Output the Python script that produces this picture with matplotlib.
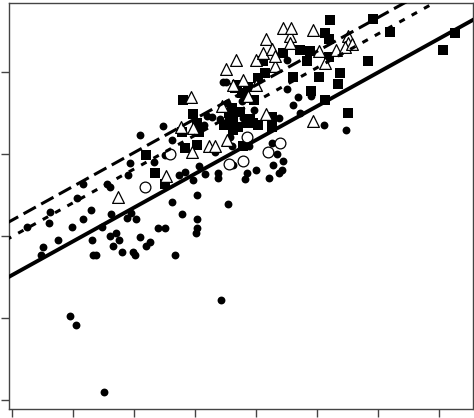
import matplotlib
matplotlib.use("Agg")
import matplotlib.pyplot as plt
import numpy as np

# filled circles
circ_x = [0.24, 0.51, 0.47, 0.62, 0.60, 0.76, 0.99, 1.07, 1.16, 1.17, 1.29, 1.31, 1.33, 1.38,
          1.47, 1.55, 1.61, 1.62, 1.60, 1.65, 1.70, 1.75, 1.81, 1.88, 1.90, 1.93, 1.95, 1.99,
          2.01, 2.03, 2.10, 2.10, 2.19, 2.26, 2.33, 2.40, 2.48, 2.51, 2.50, 2.62, 2.63, 2.68,
          2.74, 2.78, 2.84, 2.96, 3.03, 3.03, 3.03, 3.01, 3.07, 3.16, 3.28, 3.33, 3.37, 3.38,
          3.54, 3.50, 3.60, 3.63, 3.82, 3.85, 3.89, 4.00, 4.22, 4.27, 4.26, 4.34, 4.38, 4.42,
          4.45, 4.37, 4.50, 4.51, 4.61, 4.69, 4.72, 4.90, 5.11, 5.48, 0.95, 1.05, 1.51, 3.42,
          3.66, 3.77, 3.96, 3.57, 3.41, 3.19, 3.15, 3.46, 3.52, 3.62, 3.79, 3.49, 3.66]
circ_y = [2.11, 1.86, 1.76, 2.29, 2.16, 1.95, 2.11, 2.46, 2.20, 2.63, 2.32, 1.95, 1.76, 1.76,
          2.11, 2.63, 2.60, 2.27, 2.00, 1.87, 2.04, 1.95, 1.80, 2.22, 2.74, 2.89, 2.28, 1.80,
          1.76, 2.21, 1.98, 3.23, 1.87, 1.92, 2.90, 2.09, 3.34, 2.09, 2.98, 3.17, 2.41, 1.76,
          2.74, 2.27, 2.78, 2.68, 2.50, 2.20, 2.09, 2.04, 2.85, 2.75, 3.45, 3.02, 2.76, 2.71,
          2.39, 3.87, 3.09, 2.86, 2.69, 2.76, 3.09, 2.80, 2.70, 2.86, 3.13, 3.00, 2.76, 2.80,
          2.91, 3.44, 4.14, 3.79, 3.59, 3.69, 3.50, 3.71, 3.35, 3.29, 1.02, 0.91, 0.09, 1.22,
          3.54, 3.64, 3.54, 3.21, 3.43, 3.46, 3.35, 3.87, 3.62, 3.50, 3.44, 3.38, 3.32]

# filled squares
sq_x = [2.80, 2.96, 3.03, 3.07, 2.78, 3.03, 2.19, 2.35, 2.50, 2.83, 3.48, 3.56, 3.63, 3.71,
        3.68, 3.87, 3.96, 4.04, 4.12, 4.15, 3.90, 4.04, 4.26, 4.26, 4.45, 4.61, 4.72, 4.89,
        4.83, 4.90, 5.04, 5.13, 5.13, 5.22, 5.20, 5.20, 5.37, 5.35, 5.51, 5.83, 5.92, 6.20,
        7.07, 7.26, 3.79, 3.63, 3.57, 3.66, 3.77, 3.61, 3.74, 3.57, 3.85, 3.95]
sq_y = [3.66, 3.49, 3.37, 3.27, 3.27, 3.11, 2.99, 2.76, 2.63, 3.07, 3.35, 3.50, 3.41, 3.33,
        3.84, 3.82, 3.66, 3.92, 4.13, 3.98, 3.43, 3.35, 3.45, 3.33, 4.23, 3.94, 4.27, 4.25,
        4.13, 3.76, 3.94, 3.66, 4.47, 4.63, 4.40, 4.18, 3.99, 3.85, 3.50, 4.13, 4.65, 4.48,
        4.27, 4.47, 3.09, 3.29, 3.39, 3.80, 3.74, 3.56, 3.51, 3.41, 3.38, 3.38]

# open triangles
tri_x = [1.74, 2.52, 2.77, 2.93, 2.95, 2.96, 3.23, 3.33, 3.45, 3.52, 3.51, 3.67, 3.63, 3.79,
         3.87, 4.00, 4.00, 4.12, 4.16, 4.17, 4.26, 4.31, 4.31, 4.44, 4.55, 4.58, 4.56, 4.93,
         4.94, 5.04, 5.13, 5.31, 5.51, 5.50, 5.46, 5.57]
tri_y = [2.47, 2.73, 3.33, 3.69, 3.02, 3.31, 3.10, 3.10, 3.58, 3.17, 4.04, 4.14, 3.84, 3.90,
         3.70, 4.15, 3.84, 4.23, 4.40, 3.48, 4.28, 4.07, 4.19, 4.54, 4.44, 4.53, 4.35, 4.51,
         3.40, 4.25, 4.11, 4.27, 4.44, 4.35, 4.30, 4.34]

# open circles
oc_x = [2.18, 2.59, 3.55, 3.79, 3.85, 4.20, 4.40]
oc_y = [2.59, 3.00, 2.87, 2.91, 3.20, 3.02, 3.13]

# fitted lines: common slope, three intercepts
slope = 0.412
icpt_solid = 1.52
icpt_dashed = 2.19
icpt_dotted = 1.99

fig = plt.figure(figsize=(4.74, 4.18), dpi=100)
ax = fig.add_axes([0.02, 0.022, 0.978, 0.971])

ax.scatter(circ_x, circ_y, s=32, c="black", marker="o", linewidths=0, zorder=3)
ax.scatter(sq_x, sq_y, s=44, c="black", marker="s", linewidths=0, zorder=3)
ax.scatter(tri_x, tri_y, s=72, facecolors="white", edgecolors="black", marker="^",
           linewidths=0.9, zorder=4)
ax.scatter(oc_x, oc_y, s=60, facecolors="white", edgecolors="black", marker="o",
           linewidths=0.9, zorder=4)

xx = np.array([-0.1, 7.7])
ax.plot(xx, icpt_solid + slope * xx, color="black", linewidth=2.8, zorder=5)
ax.plot(xx, icpt_dashed + slope * xx, color="black", linewidth=2.2,
        linestyle=(0, (4.6, 2.0)), zorder=5)
ax.plot(xx, icpt_dotted + slope * xx, color="black", linewidth=2.2,
        linestyle=(0, (2.0, 2.6)), zorder=5)

ax.set_xlim(-0.041, 7.557)
ax.set_ylim(-0.11, 4.84)
ax.set_xticks(range(0, 8))
ax.set_yticks(range(0, 5))
ax.set_xticklabels([])
ax.set_yticklabels([])
ax.tick_params(direction="out", length=6, width=1, color="#444444")
for sp in ax.spines.values():
    sp.set_color("#444444")
    sp.set_linewidth(1.0)

fig.savefig("out.png", dpi=100)
